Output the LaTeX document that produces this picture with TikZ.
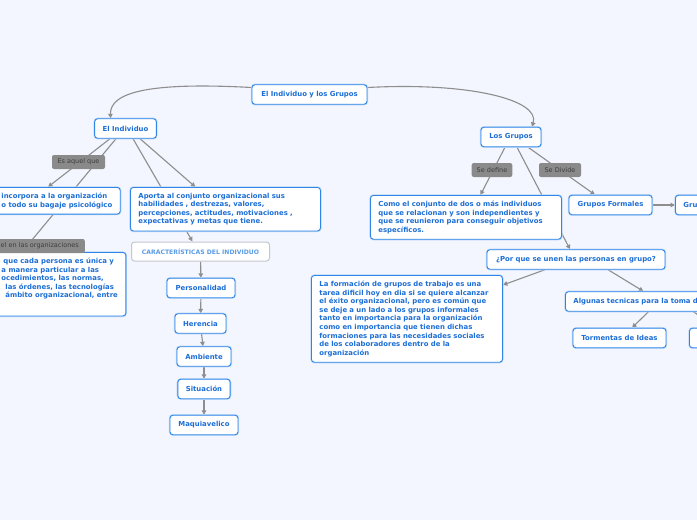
\documentclass[tikz,border=0pt]{standalone}
\usepackage{fontspec}
\setmainfont{DejaVu Sans}
\usetikzlibrary{arrows.meta,positioning,calc}
\definecolor{bgcol}{HTML}{F3F6FE}
\definecolor{boxblue}{HTML}{2F86E6}
\definecolor{boxglow}{HTML}{B9D6F7}
\definecolor{txtblue}{HTML}{1C6ED6}
\definecolor{linegray}{HTML}{8E8E8E}
\definecolor{lblgray}{HTML}{8A8A8A}
\definecolor{lbltxt}{HTML}{3E3E3E}
\definecolor{capgray}{HTML}{C3C7CF}
\definecolor{captxt}{HTML}{5A9BE6}
\pgfdeclarelayer{background}
\pgfsetlayers{background,main}

\begin{document}
\begin{tikzpicture}[x=1pt, y=-1pt, >={Triangle[length=4.5pt,width=4.5pt]},
  topic/.style={draw=boxblue, line width=0.9pt, fill=white, rounded corners=3pt,
    preaction={draw=boxglow, line width=2.2pt}, text=txtblue,
    font=\fontsize{6.9}{8.6}\selectfont\bfseries, inner xsep=8pt, inner ysep=4pt,
    minimum height=19.5pt},
  para/.style={topic, align=left, inner ysep=5.5pt},
  lbl/.style={fill=lblgray, rounded corners=2pt, text=lbltxt,
    font=\fontsize{6.5}{7}\selectfont, inner xsep=5pt, inner ysep=1pt, minimum height=14pt},
  link/.style={draw=linegray, line width=1.1pt}]
  \useasboundingbox (0,0) rectangle (697,520);

  \node[topic, minimum width=115pt] (root) at (309.5,94.5) {El Individuo y los Grupos};
  \node[topic, minimum width=61pt] (indiv) at (125.5,128.5) {El Individuo};
  \node[topic, minimum width=60pt] (grupos) at (511,137) {Los Grupos};

  \node[para, anchor=north west] (incorp) at (-7,187) {incorpora a la organización\\o todo su bagaje psicológico};
  \node[para, anchor=north west, minimum height=62pt] (unica) at (-7,252)
    {\hspace*{2pt}que cada persona es única y\\a manera particular a las\\ocedimientos, las normas,\\
     \hspace*{4pt}las órdenes, las tecnologías\\\hspace*{4pt}ámbito organizacional, entre\\[4pt]};
  \node[para, anchor=north west, text width=174pt] (aporta) at (130,187)
    {Aporta al conjunto organizacional sus\\habilidades , destrezas, valores,\\
     percepciones, actitudes, motivaciones ,\\expectativas y metas que tiene.};
  \node[draw=capgray, line width=1pt, fill=white, rounded corners=3pt, text=captxt,
    font=\fontsize{6.1}{7}\selectfont\bfseries, minimum width=138pt, minimum height=19pt]
    (caract) at (200.5,251.5) {CARACTERÍSTICAS DEL INDIVIDUO};
  \node[topic, minimum width=68pt] (person) at (201,288) {Personalidad};
  \node[topic, minimum width=51pt] (herencia) at (200.5,323.5) {Herencia};
  \node[topic, minimum width=54pt] (ambiente) at (204,356.5) {Ambiente};
  \node[topic, minimum width=52pt] (situacion) at (204,389) {Situación};
  \node[topic, minimum width=68pt] (maquia) at (204,425) {Maquiavelico};

  \node[para, anchor=north west, text width=175pt] (como) at (370,195)
    {Como el conjunto de dos o más individuos\\que se relacionan y son independientes y\\
     que se reunieron para conseguir objetivos\\específicos.};
  \node[topic, minimum width=83pt] (formales) at (610.5,205) {Grupos Formales};
  \node[topic, anchor=west, text width=52pt, align=left] (informales) at (675,205) {Gru};
  \node[topic, minimum width=178pt] (porque) at (576,259.5) {¿Por que se unen las personas en grupo?};
  \node[para, anchor=north west, text width=175pt] (formacion) at (311,275)
    {La formación de grupos de trabajo es una\\tarea dificil hoy en dia si se quiere alcanzar\\
     el éxito organizacional, pero es común que\\se deje a un lado a los grupos informales\\
     tanto en importancia para la organización\\como en importancia que tienen dichas\\
     formaciones para las necesidades sociales\\de los colaboradores dentro de la\\organización};
  \node[topic, anchor=west, text width=150pt, align=left] (algunas) at (565,301.5) {Algunas tecnicas para la toma d};
  \node[topic, minimum width=93pt] (tormentas) at (619.5,338) {Tormentas de Ideas};
  \node[topic, anchor=west, minimum width=60pt] (otra) at (689,338) {};

  \node[lbl, minimum width=53pt] (esaquel) at (78.5,162) {Es aquel que};
  \node[lbl, anchor=east, inner xsep=6pt] (papel) at (85,246) {el en las organizaciones};
  \node[lbl, minimum width=40pt] (sedefine) at (492,170) {Se define};
  \node[lbl, minimum width=42pt] (sedivide) at (560,170) {Se Divide};

  \begin{pgfonlayer}{background}
    \fill[bgcol] (0,0) rectangle (697,520);
    \draw[link,->] ($(root.west)+(0,-7)$) .. controls (150,82) and (110,92) .. ([xshift=-15pt]indiv.north);
    \draw[link,->] ($(root.east)+(0,-7)$) .. controls (470,82) and (540,100) .. ([xshift=21pt]grupos.north);
    \draw[link,->] ([xshift=-15.5pt]indiv.south) -- ($(incorp.north west)+(55,0)$);
    \draw[link,->] ([xshift=-9.5pt]indiv.south) -- ($(unica.north west)+(29,0)$);
    \draw[link,->] ([xshift=14.5pt]indiv.south) -- ([xshift=-30pt]aporta.north);
    \draw[link,->] ([xshift=7.5pt]indiv.south) -- ([xshift=-8pt]caract.north);
    \draw[link,->] (caract) -- (person);
    \draw[link,->] (person) -- (herencia);
    \draw[link,->] (herencia) -- (ambiente);
    \draw[link,->] (ambiente) -- (situacion);
    \draw[link,->] (situacion) -- (maquia);
    \draw[link,->] ([xshift=-6pt]grupos.south) -- ([xshift=14.5pt]como.north);
    \draw[link,->] ([xshift=6pt]grupos.south) -- ([xshift=-6pt]porque.north);
    \draw[link,->] ([xshift=17pt]grupos.south) -- ([xshift=-15.5pt]formales.north);
    \draw[link,->] (formales) -- (informales);
    \draw[link,->] ([xshift=-31pt]porque.south) -- ([yshift=-10pt]formacion.north east);
    \draw[link,->] ([xshift=32pt]porque.south) -- ([xshift=-5pt]algunas.north);
    \draw[link,->] (algunas.south) -- ([xshift=12.5pt]tormentas.north);
    \draw[link,->] ([xshift=45pt]algunas.south) -- ([xshift=-3pt]otra.north);
  \end{pgfonlayer}
\end{tikzpicture}
\end{document}
